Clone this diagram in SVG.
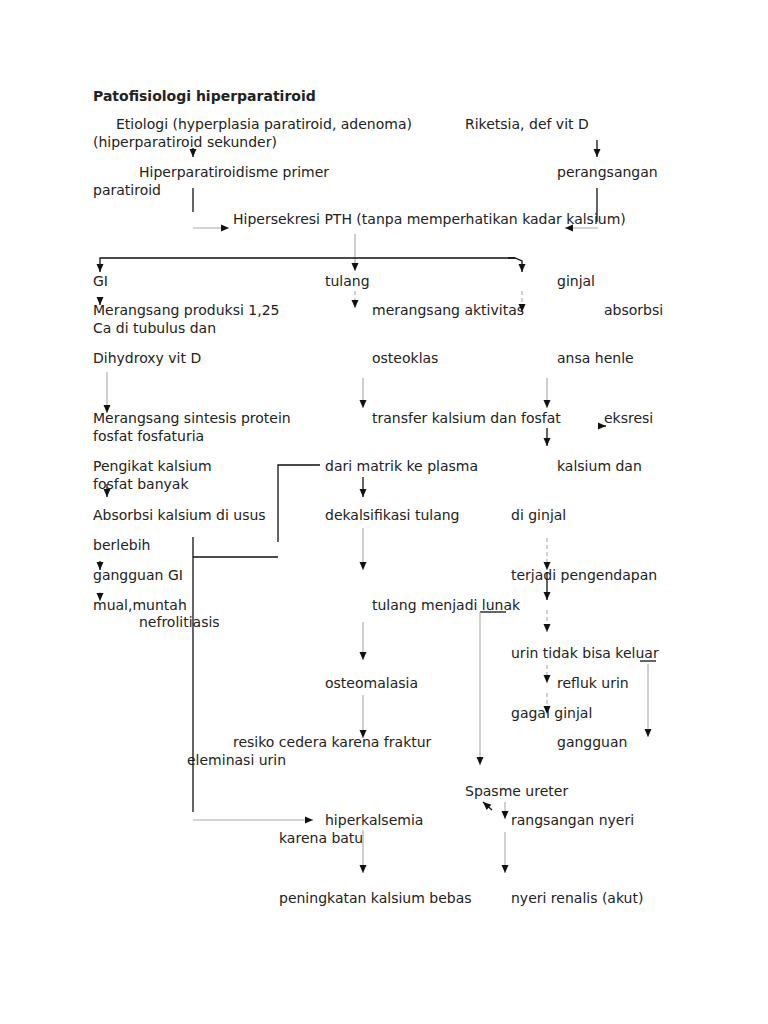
<svg xmlns="http://www.w3.org/2000/svg" width="768" height="1024" viewBox="0 0 768 1024">
<defs>
<style>
text{font-family:"DejaVu Sans","Liberation Sans",sans-serif;font-size:14px;fill:#222}
.t{font-weight:bold}
.k{fill:none;stroke:#111;stroke-width:1.3}
.g{fill:none;stroke:#aaa;stroke-width:1.1}
.d{fill:none;stroke:#aaa;stroke-width:1.1;stroke-dasharray:4 3}
.a{marker-end:url(#ah)}
</style>
<marker id="ah" viewBox="0 0 8 8" refX="8" refY="4" markerWidth="8" markerHeight="8" markerUnits="userSpaceOnUse" orient="auto"><path d="M0,0.5 L8,4 L0,7.5 z" fill="#111"/></marker>
</defs>
<rect width="768" height="1024" fill="#fff"/>
<g id="title"><text class="t" x="93" y="101">Patofisiologi hiperparatiroid</text></g>
<g id="n-etiologi"><text x="116" y="129">Etiologi (hyperplasia paratiroid, adenoma)</text><text x="93" y="147">(hiperparatiroid sekunder)</text></g>
<g id="n-riketsia"><text x="465" y="129">Riketsia, def vit D</text></g>
<g id="n-primer"><text x="139" y="177">Hiperparatiroidisme primer</text><text x="93" y="195">paratiroid</text></g>
<g id="n-perangsangan"><text x="557" y="177">perangsangan</text></g>
<g id="n-pth"><text x="233" y="224">Hipersekresi PTH (tanpa memperhatikan kadar kalsium)</text></g>
<g id="n-gi"><text x="93" y="286">GI</text></g>
<g id="n-tulang"><text x="325" y="286">tulang</text></g>
<g id="n-ginjal"><text x="557" y="286">ginjal</text></g>
<g id="n-produksi"><text x="93" y="315">Merangsang produksi 1,25</text><text x="93" y="333">Ca di tubulus dan</text></g>
<g id="n-aktivitas"><text x="372" y="315">merangsang aktivitas</text></g>
<g id="n-absorbsi"><text x="604" y="315">absorbsi</text></g>
<g id="n-dihydroxy"><text x="93" y="363">Dihydroxy vit D</text></g>
<g id="n-osteoklas"><text x="372" y="363">osteoklas</text></g>
<g id="n-ansa"><text x="557" y="363">ansa henle</text></g>
<g id="n-sintesis"><text x="93" y="423">Merangsang sintesis protein</text><text x="93" y="441">fosfat fosfaturia</text></g>
<g id="n-transfer"><text x="372" y="423">transfer kalsium dan fosfat</text></g>
<g id="n-eksresi"><text x="604" y="423">eksresi</text></g>
<g id="n-pengikat"><text x="93" y="471">Pengikat kalsium</text><text x="93" y="489">fosfat banyak</text></g>
<g id="n-matrik"><text x="325" y="471">dari matrik ke plasma</text></g>
<g id="n-kalsiumdan"><text x="557" y="471">kalsium dan</text></g>
<g id="n-absorbsi-usus"><text x="93" y="520">Absorbsi kalsium di usus</text></g>
<g id="n-dekalsifikasi"><text x="325" y="520">dekalsifikasi tulang</text></g>
<g id="n-diginjal"><text x="511" y="520">di ginjal</text></g>
<g id="n-berlebih"><text x="93" y="550">berlebih</text></g>
<g id="n-gangguangi"><text x="93" y="580">gangguan GI</text></g>
<g id="n-pengendapan"><text x="511" y="580">terjadi pengendapan</text></g>
<g id="n-mual"><text x="93" y="610">mual,muntah</text></g>
<g id="n-lunak"><text x="372" y="610">tulang menjadi lunak</text></g>
<g id="n-nefrolitiasis"><text x="139" y="627">nefrolitiasis</text></g>
<g id="n-urin"><text x="511" y="658">urin tidak bisa keluar</text></g>
<g id="n-osteomalasia"><text x="325" y="688">osteomalasia</text></g>
<g id="n-refluk"><text x="557" y="688">refluk urin</text></g>
<g id="n-gagal"><text x="511" y="718">gagal ginjal</text></g>
<g id="n-resiko"><text x="233" y="747">resiko cedera karena fraktur</text></g>
<g id="n-gangguan"><text x="557" y="747">gangguan</text><text x="187" y="765">eleminasi urin</text></g>
<g id="n-spasme"><text x="465" y="796">Spasme ureter</text></g>
<g id="n-hiperkalsemia"><text x="325" y="825">hiperkalsemia</text><text x="279" y="843">karena batu</text></g>
<g id="n-rangsangan"><text x="511" y="825">rangsangan nyeri</text></g>
<g id="n-peningkatan"><text x="279" y="903">peningkatan kalsium bebas</text></g>
<g id="n-nyeri"><text x="511" y="903">nyeri renalis (akut)</text></g>
<g id="connectors">
<path class="k a" d="M193,148 V157"/>
<path class="k" d="M193,188 V212"/>
<path class="g a" d="M193,228 H229"/>
<path class="k a" d="M597,140 V157"/>
<path class="k" d="M597,188 V222"/>
<path class="g a" d="M598,228 H565"/>
<path class="g a" d="M355,234 V271"/>
<path class="k a" d="M515,258 H100 V272"/>
<path class="k a" d="M508,258 H515 L522,261 V272"/>
<path class="k a" d="M100,297 V305"/>
<path class="d a" d="M355,291 V308"/>
<path class="d a" d="M522,291 V312"/>
<path class="g a" d="M107,372 V413"/>
<path class="g a" d="M363,378 V408"/>
<path class="g a" d="M547,378 V408"/>
<path class="k a" d="M598,426 H606"/>
<path class="k a" d="M547,428 V446"/>
<path class="k" d="M320,465 H278 V542"/>
<path class="k" d="M193,557 H278"/>
<path class="k" d="M193,537 V812"/>
<path class="g a" d="M193,820 H313"/>
<path class="k a" d="M363,477 V497"/>
<path class="k a" d="M107,484 V497"/>
<path class="g a" d="M363,528 V570"/>
<path class="d a" d="M547,538 V570"/>
<path class="k a" d="M100,561 V570"/>
<path class="g a" d="M100,592 V601"/>
<path class="k a" d="M547,572 V600"/>
<path class="d a" d="M547,610 V632"/>
<path class="k" d="M506,612 H480"/>
<path class="g a" d="M480,612 V765"/>
<path class="g a" d="M363,622 V660"/>
<path class="d a" d="M547,665 V683"/>
<path class="d a" d="M547,693 V714"/>
<path class="k" d="M640,661 H656"/>
<path class="g a" d="M648,664 V737"/>
<path class="g a" d="M363,695 V738"/>
<path class="k a" d="M492,810 L483,802"/>
<path class="g a" d="M505,802 V819"/>
<path class="g a" d="M505,832 V873"/>
<path class="g a" d="M363,830 V873"/>
</g>
</svg>
